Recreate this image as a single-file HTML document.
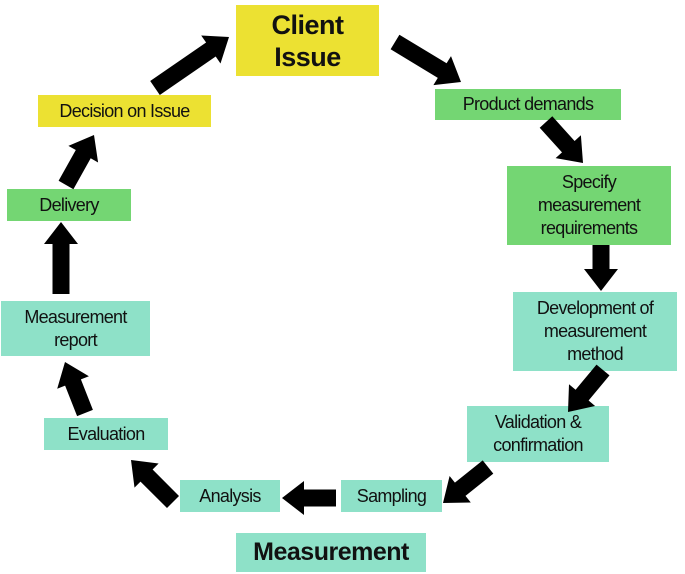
<!DOCTYPE html>
<html><head><style>
body{margin:0;width:685px;height:574px;background:#fff;position:relative;overflow:hidden;font-family:"Liberation Sans",Arial,sans-serif;}
.b{position:absolute;display:flex;align-items:center;justify-content:center;text-align:center;color:#111;font-size:18px;letter-spacing:-0.7px;line-height:23px;box-sizing:border-box;white-space:nowrap}
.y{background:#ece132}.g{background:#74d673}.t{background:#8ee1c8}
svg{position:absolute;left:0;top:0}
</style></head><body>
<div class="b y" style="left:236px;top:5px;width:143px;height:71px;font-size:27px;font-weight:bold;line-height:32px;letter-spacing:-0.5px">Client<br>Issue</div>
<div class="b g" style="left:435px;top:89px;width:186px;height:31px">Product demands</div>
<div class="b y" style="left:38px;top:95px;width:173px;height:32px">Decision on Issue</div>
<div class="b g" style="left:507px;top:166px;width:164px;height:79px">Specify<br>measurement<br>requirements</div>
<div class="b g" style="left:7px;top:189px;width:124px;height:32px">Delivery</div>
<div class="b t" style="left:1px;top:301px;width:149px;height:55px">Measurement<br>report</div>
<div class="b t" style="left:513px;top:292px;width:164px;height:79px">Development of<br>measurement<br>method</div>
<div class="b t" style="left:467px;top:406px;width:142px;height:56px">Validation &amp;<br>confirmation</div>
<div class="b t" style="left:44px;top:418px;width:124px;height:32px">Evaluation</div>
<div class="b t" style="left:180px;top:480px;width:100px;height:32px">Analysis</div>
<div class="b t" style="left:341px;top:480px;width:101px;height:32px">Sampling</div>
<div class="b t" style="left:236px;top:533px;width:190px;height:39px;font-size:25px;font-weight:bold;letter-spacing:-0.5px">Measurement</div>
<svg width="685" height="574" id="s"></svg>
<script>
var A=[[155,88,229,37],[395,42,461,82],[546,122,583,163],[601,245,601,291],[603,370,568,412],[488,467,443,503],[336,498,282,498],[173,502,131,460],[85,413,65,362],[61,294,61,222],[66,185,94,135]];
var s='';
A.forEach(function(a){var dx=a[2]-a[0],dy=a[3]-a[1],L=Math.hypot(dx,dy),ux=dx/L,uy=dy/L,px=-uy,py=ux,w=8.5,h=17,hl=22;
var bx=a[2]-ux*hl,by=a[3]-uy*hl;
var p=[[a[0]+px*w,a[1]+py*w],[bx+px*w,by+py*w],[bx+px*h,by+py*h],[a[2],a[3]],[bx-px*h,by-py*h],[bx-px*w,by-py*w],[a[0]-px*w,a[1]-py*w]];
s+='<polygon fill="#000" points="'+p.map(function(q){return q[0].toFixed(1)+','+q[1].toFixed(1)}).join(' ')+'"/>';});
document.getElementById('s').innerHTML=s;
</script>
</body></html>
